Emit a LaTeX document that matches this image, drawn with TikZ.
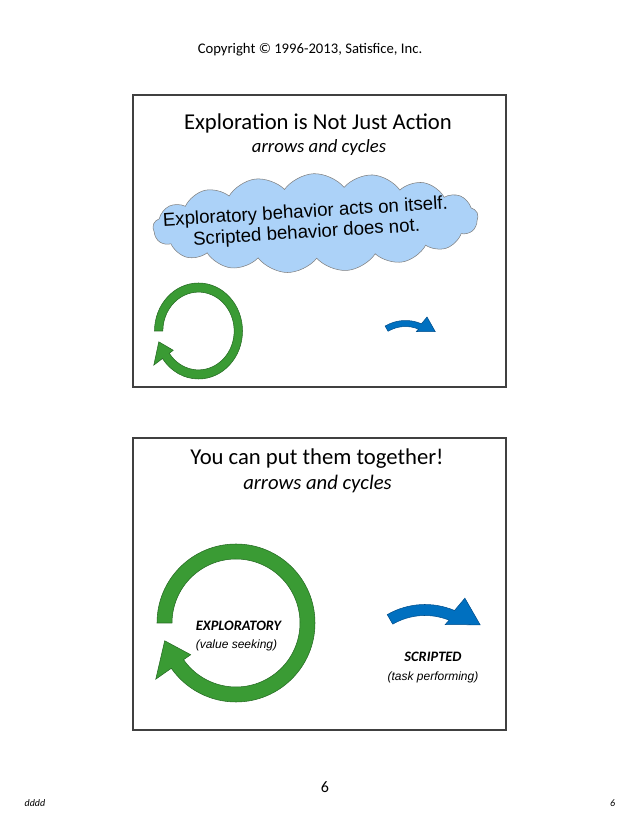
\documentclass[tikz,border=0pt]{standalone}
\usepackage{fontspec}
\setmainfont{Carlito}
\newfontfamily\arialfont{Liberation Sans}
\usetikzlibrary{shapes.symbols,positioning}

\definecolor{cyclegreen}{RGB}{58,155,52}
\definecolor{cycleedge}{RGB}{36,105,34}
\definecolor{arrowblue}{RGB}{0,112,192}
\definecolor{arrowedge}{RGB}{0,78,140}
\definecolor{cloudblue}{RGB}{172,210,248}

\begin{document}
\begin{tikzpicture}[
    x=0.75pt, y=0.75pt,
    slide/.style={draw=black!75, line width=0.9pt},
    title/.style={anchor=base, font=\fontsize{17}{20}\selectfont},
    subtitle/.style={anchor=base, font=\itshape\fontsize{14}{17}\selectfont},
    tag/.style={font=\bfseries\itshape\fontsize{10.8}{13}\selectfont},
    note/.style={font=\arialfont\itshape\fontsize{9}{11}\selectfont},
    greencycle/.pic={
        \filldraw[fill=cyclegreen, draw=cycleedge, line width=0.4pt]
            (180:0.81) -- (180:1) arc[start angle=180, end angle=-145, radius=1]
            -- (-145:1.24) -- (-166:0.93) -- (-145:0.70) -- (-145:0.81)
            arc[start angle=-145, end angle=180, radius=0.81] -- cycle;
    },
    bluearrow/.pic={
        \filldraw[fill=arrowblue, draw=arrowedge, line width=0.4pt]
            (120:64.5) -- (120:75.5) arc[start angle=120, end angle=67, radius=75.5]
            -- (64:91) -- (45:78) -- (70:59) -- (68:64.5)
            arc[start angle=68, end angle=120, radius=64.5] -- cycle;
    }
]
    \useasboundingbox (0,0) rectangle (638,826);

    % page header
    \node[anchor=base, font=\fontsize{11}{13}\selectfont] (copyright) at (310,772)
        {Copyright \textcopyright{} 1996-2013, Satisfice, Inc.};

    % first slide
    \draw[slide] (133,439) rectangle (506,731);
    \node[title] (title1) at (318,696) {Exploration is Not Just Action};
    \node[subtitle] (sub1) at (319,673) {arrows and cycles};
    \node[cloud, draw=black!50, fill=cloudblue, cloud puffs=17, cloud puff arc=105,
          aspect=3.3, minimum width=244pt, minimum height=74pt, inner sep=0pt,
          rotate=2] (cloud) at (315.5,603) {};
    \node[align=center, rotate=3.5, font=\arialfont\fontsize{14}{15.5}\selectfont]
        (cloudtext) at (306,603) {Exploratory behavior acts on itself.\\Scripted behavior does not.};
    \pic[xscale=44, yscale=48] (cycle1) at (198.5,495) {greencycle};
    \pic[xscale=0.54, yscale=0.55] (arrow1) at (405.5,464) {bluearrow};

    % second slide
    \draw[slide] (133,96) rectangle (506,388);
    \node[title] (title2) at (317,361) {You can put them together!};
    \node[subtitle, font=\itshape\fontsize{15.5}{18}\selectfont] (sub2) at (317.5,336) {arrows and cycles};
    \pic[scale=79] (cycle2) at (236,203) {greencycle};
    \pic (arrow2) at (425,146) {bluearrow};
    \node[tag] (explore) at (238.5,200) {EXPLORATORY};
    \node[note] (explorenote) at (236.5,181) {(value seeking)};
    \node[tag] (script) at (433,169) {SCRIPTED};
    \node[note] (scriptnote) at (433,149) {(task performing)};

    % page footer
    \node[anchor=base, font=\fontsize{12}{14}\selectfont] (pagenum) at (325,33) {6};
    \node[anchor=base west, font=\itshape\fontsize{7.5}{9}\selectfont] (footleft) at (20,19) {dddd};
    \node[anchor=base east, font=\itshape\fontsize{7.5}{9}\selectfont] (footright) at (620,19) {6};
\end{tikzpicture}
\end{document}
